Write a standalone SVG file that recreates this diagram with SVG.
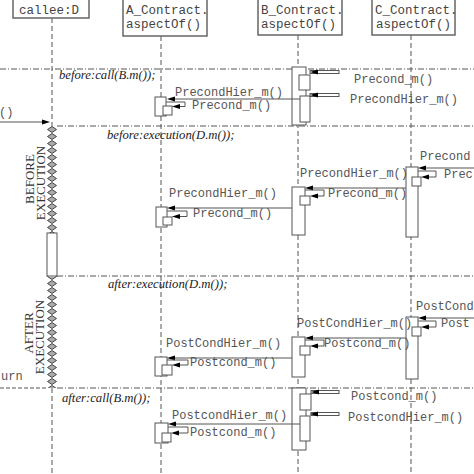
<svg xmlns="http://www.w3.org/2000/svg" width="474" height="474" viewBox="0 0 474 474">
<defs>
<style>
.hdr{fill:#fff;stroke:#666;stroke-width:1.5}
.ht{font-family:"Liberation Mono",monospace;font-size:12.5px;fill:#444}
.life{stroke:#555;stroke-width:1;stroke-dasharray:5 3;fill:none}
.sep{stroke:#555;stroke-width:1;stroke-dasharray:6 2 1 2;fill:none}
.ret{stroke:#555;stroke-width:1;stroke-dasharray:4 2;fill:none}
.frag{font-family:"Liberation Serif",serif;font-style:italic;font-size:12.7px;fill:#222}
.vt{font-family:"Liberation Serif",serif;font-size:13px;fill:#333;text-anchor:middle}
.act{fill:#fff;stroke:#555;stroke-width:1}
.msg{stroke:#555;stroke-width:1;fill:none}
.stub{stroke:#555;stroke-width:1;fill:#fff}
.ml{font-family:"Liberation Mono",monospace;font-size:12px;fill:#555}
</style>
<path id="ah" d="M0,0 L8,-2.6 L8,2.6 Z" fill="#000"/>
<path id="ahr" d="M0,0 L-8,-2.6 L-8,2.6 Z" fill="#000"/>
<pattern id="chain" patternUnits="userSpaceOnUse" x="47" y="126" width="10" height="7">
<polygon points="5,0.5 9.5,3.5 5,6.5 0.5,3.5" fill="#aaa" stroke="#444" stroke-width="1"/>
</pattern>
</defs>
<rect x="0" y="0" width="474" height="474" fill="#fff"/>

<g id="lifelines">
<line class="life" x1="52" y1="18" x2="52" y2="126"/>
<line class="life" x1="52" y1="388" x2="52" y2="474"/>
<line class="life" x1="161" y1="36" x2="161" y2="474"/>
<line class="life" x1="298" y1="35" x2="298" y2="474"/>
<line class="life" x1="411" y1="35" x2="411" y2="474"/>
</g>

<g id="fragments">
<line class="sep" x1="0" y1="69" x2="474" y2="69"/>
<line class="sep" x1="57" y1="126" x2="474" y2="126"/>
<line class="sep" x1="57" y1="276" x2="474" y2="276"/>
<line class="sep" x1="57" y1="388" x2="474" y2="388"/>
<text class="frag" x="59" y="79">before:call(B.m());</text>
<text class="frag" x="107" y="139">before:execution(D.m());</text>
<text class="frag" x="108" y="288">after:execution(D.m());</text>
<text class="frag" x="62" y="402">after:call(B.m());</text>
</g>

<g id="callee-D">
<rect class="hdr" x="13" y="-3" width="76" height="21"/>
<text class="ht" x="19" y="14">callee:D</text>
<rect x="47" y="126" width="10" height="107" fill="url(#chain)"/>
<rect class="act" x="47" y="233" width="10" height="43"/>
<rect x="47" y="276" width="10" height="112" fill="url(#chain)"/>
<text class="vt" transform="translate(34,179) rotate(-90)">BEFORE</text>
<text class="vt" transform="translate(45,183) rotate(-90)">EXECUTION</text>
<text class="vt" transform="translate(33,333) rotate(-90)">AFTER</text>
<text class="vt" transform="translate(44,337) rotate(-90)">EXECUTION</text>
</g>

<g id="A-Contract">
<rect class="hdr" x="123" y="-3" width="84" height="39"/>
<text class="ht" x="126" y="13.5">A_Contract.</text>
<text class="ht" x="126" y="27.5">aspectOf()</text>
<rect class="act" x="155" y="97" width="11" height="19"/>
<rect class="act" x="163" y="106" width="9" height="9"/>
<rect class="act" x="156" y="207" width="11" height="20"/>
<rect class="act" x="163" y="217" width="9" height="8"/>
<rect class="act" x="155" y="357" width="12" height="19"/>
<rect class="act" x="162" y="365" width="10" height="10"/>
<rect class="act" x="155" y="423" width="13" height="20"/>
<rect class="act" x="162" y="433" width="9" height="9"/>
</g>

<g id="B-Contract">
<rect class="hdr" x="258" y="-3" width="84" height="38"/>
<text class="ht" x="261" y="13.5">B_Contract.</text>
<text class="ht" x="261" y="27.5">aspectOf()</text>
<rect class="act" x="292" y="67" width="14" height="58"/>
<rect class="act" x="299" y="75" width="11" height="15"/>
<rect class="act" x="300" y="96" width="10" height="26"/>
<rect class="act" x="292" y="187" width="13" height="48"/>
<rect class="act" x="300" y="196" width="10" height="9"/>
<rect class="act" x="292" y="337" width="13" height="40"/>
<rect class="act" x="300" y="346" width="10" height="9"/>
<rect class="act" x="292" y="388" width="14" height="62"/>
<rect class="act" x="300" y="394" width="11" height="16"/>
<rect class="act" x="300" y="416" width="10" height="25"/>
</g>

<g id="C-Contract">
<rect class="hdr" x="372" y="-3" width="83" height="38"/>
<text class="ht" x="375" y="13.5">C_Contract.</text>
<text class="ht" x="376" y="27.5">aspectOf()</text>
<rect class="act" x="406" y="167" width="12" height="70"/>
<rect class="act" x="412" y="177" width="9" height="9"/>
<rect class="act" x="406" y="317" width="12" height="62"/>
<rect class="act" x="412" y="327" width="9" height="9"/>
</g>

<g id="connectors">
<line class="msg" x1="0" y1="122" x2="44" y2="122"/>
<use href="#ahr" x="50" y="122"/>
<text class="ml" x="-1" y="116">()</text>
<line class="ret" x1="0" y1="388" x2="47" y2="388"/>
<text class="ml" x="1" y="380">urn</text>

<rect class="stub" x="310" y="70.5" width="29" height="3"/>
<use href="#ah" x="310" y="72"/>
<rect class="stub" x="310" y="93.5" width="29" height="3"/>
<use href="#ah" x="310" y="95"/>
<text class="ml" x="354" y="83">Precond_m()</text>
<text class="ml" x="350" y="103">PrecondHier_m()</text>
<line class="msg" x1="300" y1="99" x2="174" y2="99"/>
<use href="#ah" x="167" y="99"/>
<path class="msg" d="M166,102 H185 V106.5 H178"/>
<use href="#ah" x="172" y="106.5"/>
<text class="ml" x="175" y="96">PrecondHier_m()</text>
<text class="ml" x="192" y="108.5">Precond_m()</text>

<line class="msg" x1="474" y1="168" x2="425" y2="168"/>
<use href="#ah" x="418" y="168"/>
<path class="msg" d="M418,171 H436 V177 H428"/>
<use href="#ah" x="421" y="177"/>
<text class="ml" x="420" y="160">Precond</text>
<text class="ml" x="444" y="178">Prec</text>
<line class="msg" x1="406" y1="188" x2="312" y2="188"/>
<use href="#ah" x="305" y="188"/>
<path class="msg" d="M305,190 H324 V196 H317"/>
<use href="#ah" x="310" y="196"/>
<text class="ml" x="300" y="177">PrecondHier_m()</text>
<text class="ml" x="328" y="197">Precond_m()</text>
<line class="msg" x1="292" y1="208" x2="174" y2="208"/>
<use href="#ah" x="167" y="208"/>
<path class="msg" d="M167,211 H187 V216.5 H179"/>
<use href="#ah" x="172" y="216.5"/>
<text class="ml" x="169" y="197">PrecondHier_m()</text>
<text class="ml" x="193" y="217">Precond_m()</text>

<line class="msg" x1="474" y1="318" x2="425" y2="318"/>
<use href="#ah" x="418" y="318"/>
<path class="msg" d="M418,321 H436 V327 H428"/>
<use href="#ah" x="421" y="327"/>
<text class="ml" x="416" y="310">PostCond</text>
<text class="ml" x="441" y="327">Post</text>
<line class="msg" x1="406" y1="338" x2="312" y2="338"/>
<use href="#ah" x="305" y="338"/>
<path class="msg" d="M305,340 H324 V346 H317"/>
<use href="#ah" x="310" y="346"/>
<text class="ml" x="297" y="327">PostCondHier_m()</text>
<text class="ml" x="324" y="347">Postcond_m()</text>
<line class="msg" x1="292" y1="358" x2="174" y2="358"/>
<use href="#ah" x="167" y="358"/>
<path class="msg" d="M167,360 H188 V365 H179"/>
<use href="#ah" x="172" y="365"/>
<text class="ml" x="166" y="347">PostCondHier_m()</text>
<text class="ml" x="190" y="366">Postcond_m()</text>

<rect class="stub" x="311" y="390.5" width="28" height="3"/>
<use href="#ah" x="311" y="392"/>
<rect class="stub" x="311" y="412.5" width="28" height="3"/>
<use href="#ah" x="310" y="414"/>
<text class="ml" x="351" y="400">Postcond_m()</text>
<text class="ml" x="348" y="421">PostcondHier_m()</text>
<line class="msg" x1="300" y1="424" x2="175" y2="424"/>
<use href="#ah" x="168" y="424"/>
<path class="msg" d="M168,427 H188 V433 H178"/>
<use href="#ah" x="171" y="433"/>
<text class="ml" x="172" y="419">PostcondHier_m()</text>
<text class="ml" x="190" y="436">Postcond_m()</text>
</g>
</svg>
